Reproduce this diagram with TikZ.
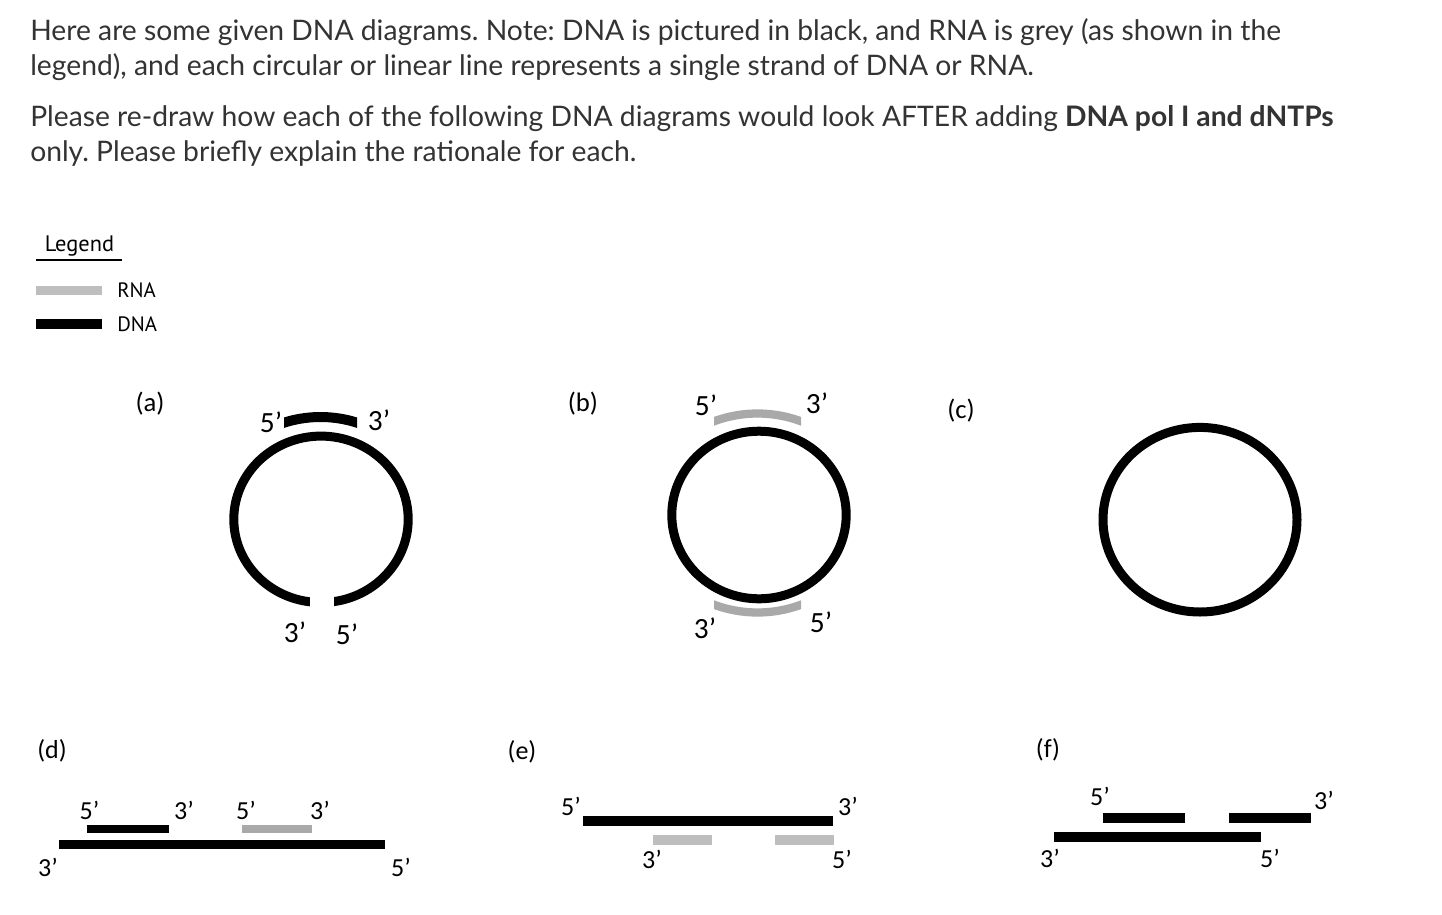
\documentclass[tikz,border=0pt]{standalone}
\usepackage{fontspec}
\setmainfont{Lato}
\newfontfamily\lab{Carlito}
\newfontfamily\legf{PT Sans}
\definecolor{txt}{HTML}{333333}
\definecolor{rnaA}{HTML}{A9A9A9}
\definecolor{rnaB}{HTML}{BEBEBE}
\frenchspacing
\begin{document}
\begin{tikzpicture}[x=0.75pt,y=-0.75pt,
  head/.style={anchor=base west, inner sep=0, text=txt, font=\fontsize{21.2}{25}\selectfont},
  lbl/.style={inner sep=0, font=\lab\fontsize{19.5}{23}\selectfont},
  biglbl/.style={inner sep=0, font=\lab\fontsize{22}{26}\selectfont},
  panel/.style={inner sep=0, font=\lab\fontsize{20}{24}\selectfont},
  legtxt/.style={inner sep=0, anchor=west, font=\legf\fontsize{15.6}{18}\selectfont},
  ring/.style={line width=6.75pt, black},
  bar/.style={line width=7.5pt, black},
  thinbar/.style={line width=6.5pt, black}]
\useasboundingbox (0,0) rectangle (1442,914);
\fill[white] (0,0) rectangle (1442,914);

% header
\node[head] (h1) at (30,40) {Here are some given DNA diagrams. Note: DNA is pictured in black, and RNA is grey (as shown in the};
\node[head] (h2) at (30,75) {legend), and each circular or linear line represents a single strand of DNA or RNA.};
\node[head] (h3) at (30,126) {Please re-draw how each of the following DNA diagrams would look AFTER adding \textbf{DNA pol I and dNTPs}};
\node[head] (h4) at (30,161) {only. Please briefly explain the rationale for each.};

% legend
\node[inner sep=0, font=\legf\fontsize{16.8}{20}\selectfont] (leg) at (79.5,246) {Legend};
\draw[line width=1.1pt] (36,260) -- (122,260);
\draw[line width=6.75pt, rnaB] (36,290.5) -- (102,290.5);
\draw[line width=7.2pt, black] (36,324) -- (102,324);
\node[legtxt] (lrna) at (117,290) {RNA};
\node[legtxt] (ldna) at (117,324) {DNA};

% (a)
\node[panel] (pa) at (150,404) {(a)};
\draw[ring] (321,519.3) ellipse[x radius=87.2, y radius=83.2];
\fill[white] (310,585) rectangle (334,620);
\begin{scope}
\clip (284,395) rectangle (357,440);
\draw[line width=7.5pt] (320.5,537) ++(240:120) arc[start angle=240,end angle=300,radius=120];
\end{scope}
\node[biglbl] (a5t) at (271,422) {5’};
\node[biglbl] (a3t) at (379,420) {3’};
\node[biglbl] (a3b) at (295,632) {3’};
\node[biglbl] (a5b) at (347,634) {5’};

% (b)
\node[panel] (pb) at (583,404) {(b)};
\draw[ring] (759,515) ellipse[x radius=87.2, y radius=83.8];
\begin{scope}
\clip (714,395) rectangle (801,440);
\draw[line width=6.2pt, rnaA] (757.5,538.5) ++(240:125) arc[start angle=240,end angle=300,radius=125];
\end{scope}
\begin{scope}
\clip (714,590) rectangle (801,630);
\draw[line width=6.2pt, rnaA] (757.5,487.5) ++(60:125) arc[start angle=60,end angle=120,radius=125];
\end{scope}
\node[biglbl] (b5t) at (706,405) {5’};
\node[biglbl] (b3t) at (817,403) {3’};
\node[biglbl] (b3b) at (705,628) {3’};
\node[biglbl] (b5b) at (821,622) {5’};

% (c)
\node[panel] (pc) at (961,411) {(c)};
\draw[ring] (1200,519.7) ellipse[x radius=97, y radius=92.3];

% (d)
\node[lbl] (pd) at (52,751) {(d)};
\draw[line width=7pt, black] (59,844.7) -- (385,844.7);
\draw[thinbar] (87,829) -- (169,829);
\draw[line width=6.5pt, rnaA] (242,829) -- (312,829);
\node[lbl] (d5a) at (89.5,810) {5’};
\node[lbl] (d3a) at (184,810) {3’};
\node[lbl] (d5b) at (246,810) {5’};
\node[lbl] (d3b) at (320,810) {3’};
\node[lbl] (d3c) at (48,867) {3’};
\node[lbl] (d5c) at (401,867) {5’};

% (e)
\node[lbl] (pe) at (522,752) {(e)};
\draw[bar] (583,820.5) -- (833,820.5);
\draw[line width=7.5pt, rnaB] (653,840.3) -- (712,840.3);
\draw[line width=7.5pt, rnaB] (775,840.3) -- (834,840.3);
\node[lbl] (e5a) at (571,806) {5’};
\node[lbl] (e3a) at (848,806) {3’};
\node[lbl] (e3b) at (652,859) {3’};
\node[lbl] (e5b) at (842,859) {5’};

% (f)
\node[lbl] (pf) at (1048,750) {(f)};
\draw[bar] (1054,837) -- (1261,837);
\draw[bar] (1103,818) -- (1185,818);
\draw[bar] (1229,818) -- (1311,818);
\node[lbl] (f5a) at (1100,796) {5’};
\node[lbl] (f3a) at (1324,800) {3’};
\node[lbl] (f3b) at (1050,858) {3’};
\node[lbl] (f5b) at (1270,858) {5’};
\end{tikzpicture}
\end{document}
